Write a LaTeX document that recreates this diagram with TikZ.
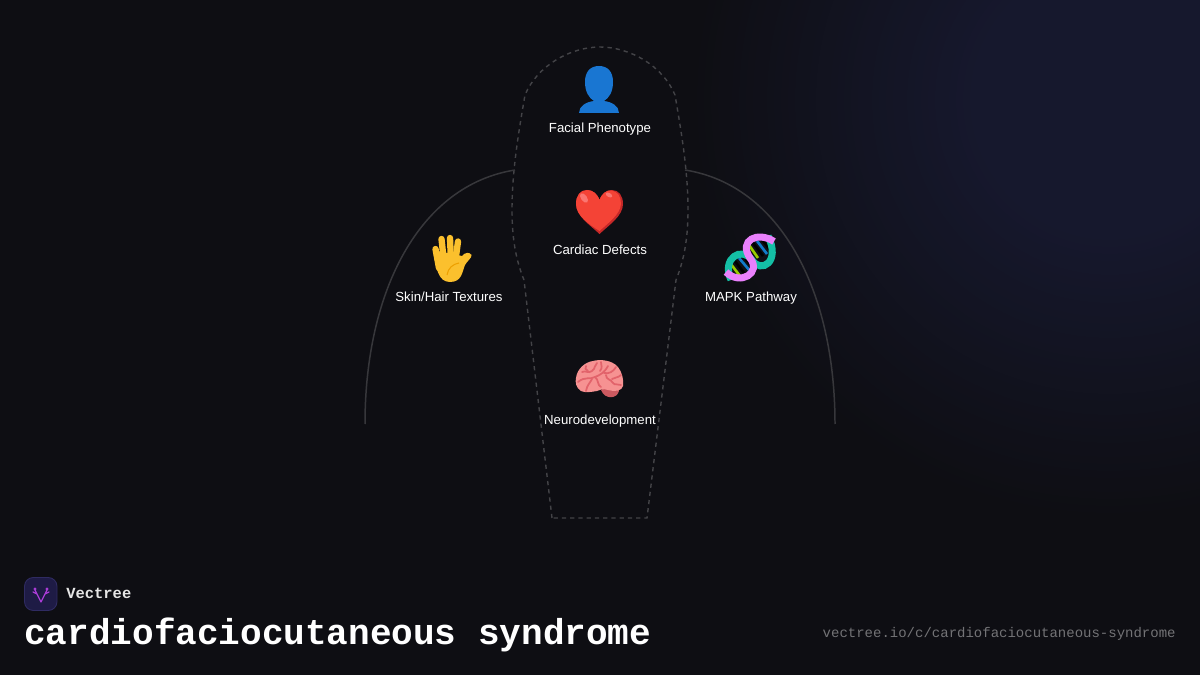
\documentclass[tikz,border=0pt]{standalone}
\usepackage{fontspec}
\setmainfont{Liberation Sans}
\setmonofont{Liberation Mono}
\usepackage{xcolor}
\usetikzlibrary{positioning}
\definecolor{bgdark}{HTML}{0E0E13}
\definecolor{glowblue}{HTML}{16182D}
\definecolor{linegrey}{HTML}{37373B}
\definecolor{dashgrey}{HTML}{434347}
\definecolor{personblue}{HTML}{1976D2}
\definecolor{skinyellow}{HTML}{FBC02D}
\definecolor{skinshade}{HTML}{EDA000}
\definecolor{heartred}{HTML}{F44336}
\definecolor{heartdark}{HTML}{C62828}
\definecolor{brainpink}{HTML}{F69292}
\definecolor{brainline}{HTML}{E2636B}
\definecolor{dnateal}{HTML}{14BFA5}
\definecolor{dnapink}{HTML}{EA80FC}
\definecolor{logofill}{HTML}{1E1B45}
\definecolor{logoedge}{HTML}{2F2B62}
\definecolor{logopurple}{HTML}{A93CD6}

\begin{document}
\begin{tikzpicture}[x=0.02cm,y=-0.02cm,
 organlabel/.style={anchor=base,text=white,inner sep=0pt,font=\fontsize{7.52pt}{9pt}\selectfont},
 bodyline/.style={draw=dashgrey,line width=0.8pt,dash pattern=on 2.4pt off 2.3pt},
 armline/.style={draw=linegrey,line width=0.85pt},
 sulcus/.style={draw=brainline,line width=1pt,line cap=round,line join=round},
 finger/.style={draw=skinyellow,line width=3.6pt,line cap=round},
 rung/.style={line width=1.5pt}]
\useasboundingbox (0,0) rectangle (1200,675);
% Page background with the soft blue glow in the upper right.
\path[fill=bgdark] (0,0) rectangle (1200,675);
\begin{scope}
  \clip (0,0) rectangle (1200,675);
  \foreach \i in {1,...,40}{
    \pgfmathsetmacro{\glowpct}{\i*2.5}
    \pgfmathsetmacro{\glowrad}{420-\i*7}
    \path[fill=glowblue!\glowpct!bgdark] (1110,100) circle (\glowrad);
  }
\end{scope}

% Body outline and the two arms.
\path[bodyline] (552,518)--(524,280)
  .. controls (515,258) and (512,235) .. (512,210)
  .. controls (512,170) and (519,130) .. (525,95)
  .. controls (537,66) and (570,47) .. (600,47)
  .. controls (630,47) and (663,66) .. (675,95)
  .. controls (681,130) and (688,170) .. (688,210)
  .. controls (688,235) and (685,258) .. (676,280)
  --(647,518)--cycle;
\path[armline] (515,170) .. controls (420,185) and (365,290) .. (365,424);
\path[armline] (685,170) .. controls (780,185) and (835,290) .. (835,424);

% Person icon.
\path[fill=personblue] (599,66)
  .. controls (608,66) and (613,72) .. (613,82)
  .. controls (613,92) and (609,98) .. (604,101)
  .. controls (612,102) and (619,106) .. (619,113)
  --(579,113)
  .. controls (579,106) and (586,102) .. (594,101)
  .. controls (589,98) and (585,92) .. (585,82)
  .. controls (585,72) and (590,66) .. (599,66)--cycle;
\node[organlabel] (facial) at (600,133) {Facial Phenotype};

% Heart icon.
\path[fill=heartdark] (599.5,200)
  .. controls (602,193) and (607,190) .. (612,190)
  .. controls (619,190) and (623,196) .. (623,204)
  .. controls (623,216) and (609,225) .. (599.5,234)
  .. controls (590,225) and (576,216) .. (576,204)
  .. controls (576,196) and (580,190) .. (587,190)
  .. controls (592,190) and (597,193) .. (599.5,200)--cycle;
\path[fill=heartred] (599.5,200)
  .. controls (602,193) and (607,190) .. (611,190.5)
  .. controls (618,191) and (621,197) .. (621,204)
  .. controls (620,215) and (608,223) .. (599.5,231)
  .. controls (590,225) and (576,216) .. (576,204)
  .. controls (576,196) and (580,190) .. (587,190)
  .. controls (592,190) and (597,193) .. (599.5,200)--cycle;
\path[fill=red!40!white,fill opacity=0.6,rotate around={35:(584,198)}]
  (584,198) ellipse (3 and 5.5);
\path[fill=red!40!white,fill opacity=0.6,rotate around={60:(609,195)}]
  (609,195) ellipse (2 and 3.6);
\node[organlabel] (cardiac) at (600,255) {Cardiac Defects};

% Raised hand icon.
\path[finger] (439,268)--(435.5,249);
\path[finger] (444,262)--(441.5,239);
\path[finger] (451,262)--(450,238);
\path[finger] (455,264)--(458,241.5);
\path[fill=skinyellow] (433,250)--(462,256)
  .. controls (465,252) and (470,252) .. (471.5,255)
  .. controls (472,258) and (467,261) .. (465,265)
  .. controls (462,272) and (462,282) .. (450,282)
  .. controls (438,282) and (436,268) .. (433,250)--cycle;
\path[draw=skinshade,line width=0.6pt] (447,275) .. controls (448,268) and (453,264) .. (459,263);
\node[organlabel] (skin) at (449,302) {Skin/Hair Textures};

% DNA icon.
\foreach \ax/\ay/\bx/\by/\c in {749/245/758/258/lime!80!black,753/243/763/256/black,
  757/241/767/254/cyan!60!blue,762/240/771/251/black,730/263/740/276/lime!80!black,
  734/260/745/274/black,739/258/750/271/cyan!60!blue,744/257/753/268/black}
  \draw[rung,\c] (\ax,\ay)--(\bx,\by);
\draw[dnateal,line width=4pt] (731,280)
  .. controls (721,258) and (742,246) .. (752,260)
  .. controls (761,274) and (781,262) .. (768,236);
\draw[dnapink,line width=4pt] (726,272)
  .. controls (740,286) and (762,273) .. (750,258)
  .. controls (738,240) and (758,231) .. (774,241.5);
\node[organlabel] (mapk) at (751,302) {MAPK Pathway};

% Brain icon.
\path[fill=brainline!90!black] (601,390)
  .. controls (606,384) and (620,384) .. (619,391)
  .. controls (617,399) and (605,400) .. (601,390)--cycle;
\path[fill=brainpink] (576,378)
  .. controls (577,369) and (585,362) .. (593,361)
  .. controls (600,359) and (612,360) .. (618,367)
  .. controls (622,372) and (624,380) .. (623,386)
  .. controls (622,391) and (615,392) .. (608,390)
  .. controls (603,388) and (600,390) .. (597,391)
  .. controls (591,392) and (585,393) .. (581,391)
  .. controls (576,388) and (575,382) .. (576,378)--cycle;
\path[sulcus] (582,372) .. controls (586,370) and (588,374) .. (592,371)
  .. controls (596,368) and (594,365) .. (597,363);
\path[sulcus] (578,382) .. controls (585,376) and (590,380) .. (595,377)
  .. controls (600,375) and (604,373) .. (608,366);
\path[sulcus] (595,377) .. controls (599,380) and (597,385) .. (601,387);
\path[sulcus] (586,391) .. controls (587,385) and (590,383) .. (592,379);
\path[sulcus] (604,373) .. controls (609,374) and (613,372) .. (616,367);
\path[sulcus] (606,375) .. controls (606,380) and (611,379) .. (613,383)
  .. controls (615,386) and (618,383) .. (621,385);
\path[sulcus] (612,379) .. controls (615,377) and (618,378) .. (621,375);
\path[sulcus] (586,366) .. controls (584,368) and (586,370) .. (588,371);
\path[sulcus] (601,362) .. controls (601,366) and (603,367) .. (600,371);
\node[organlabel] (neuro) at (600,424) {Neurodevelopment};

% Footer with logo, brand, title and link.
\path[fill=logofill,draw=logoedge,line width=0.5pt,rounded corners=5pt]
  (24.5,577.5) rectangle (57,610.5);
\draw[logopurple,line width=0.7pt,line cap=round,line join=round]
  (35,590)--(41,602)--(47,590) (33,592)--(37,594) (49,592)--(45,594);
\fill[logopurple] (35,589) circle (1.7) (47,589) circle (1.7);
\node[anchor=base west,inner sep=0pt,text=white!90!black,
  font=\ttfamily\bfseries\fontsize{8.8pt}{11pt}\selectfont] (brand) at (66,598) {Vectree};
\node[anchor=base west,inner sep=0pt,text=white,
  font=\ttfamily\bfseries\fontsize{20.5pt}{24pt}\selectfont] (title) at (24,644)
  {cardiofaciocutaneous syndrome};
\node[anchor=base east,inner sep=0pt,text=white!42!bgdark,
  font=\ttfamily\fontsize{7.97pt}{10pt}\selectfont] (link) at (1176,637)
  {vectree.io/c/cardiofaciocutaneous-syndrome};
\end{tikzpicture}
\end{document}
